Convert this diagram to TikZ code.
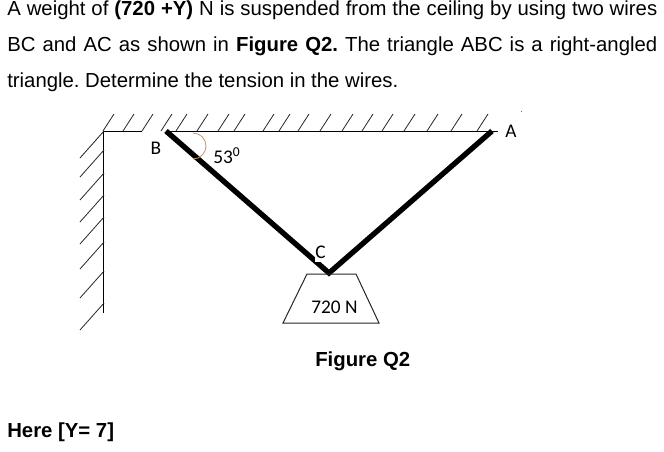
\documentclass[tikz,border=0pt]{standalone}
\usepackage{fontspec}
\setmainfont{Liberation Sans}
\newfontfamily\labelfont{Carlito}
\frenchspacing
\tikzset{
  wire/.style={line width=4pt,black,line cap=butt},
  thinline/.style={line width=0.95pt,black},
  hatchline/.style={line width=0.6pt,black!85},
  para/.style={anchor=base west,inner sep=0pt,font=\fontsize{15.25pt}{26.9pt}\selectfont},
  lab/.style={inner sep=0pt,font=\labelfont\fontsize{14.5pt}{14.5pt}\selectfont},
}
\begin{document}
\begin{tikzpicture}[x=0.75pt,y=-0.75pt]
\useasboundingbox (0,0) rectangle (664,451);
\fill[white] (0,0) rectangle (664,451);
% text
\node[para,text width=487.5pt,align=justify,anchor=north west] (intro) at (7,0.5) {%
  A weight of \textbf{(720 +Y)} N is suspended from the ceiling by using two wires\linebreak
  BC and AC as shown in \textbf{Figure Q2.} The triangle ABC is a right-angled\linebreak
  triangle. Determine the tension in the wires.};
\node[para] (figcap) at (315,366) {\textbf{Figure Q2}};
\node[para] (here) at (7,437) {\textbf{Here [Y= 7]}};
% ceiling and wall
\coordinate (corner) at (103.5,131.5);
\coordinate (gapl) at (142,131.5);
\coordinate (gapr) at (166,131.5);
\coordinate (ceilend) at (498,131.5);
\coordinate (wallend) at (103.5,313);
\draw[thinline] (gapl) -- (corner) -- (wallend);
\draw[thinline] (gapr) -- (ceilend);
% ceiling hatches
\foreach \x in {103,123,142,161,176,197,218,234,263,279,298,320,342,362,382,404,427,451,477}
  \draw[hatchline] (\x,131) -- ++(11,-17);
% wall hatches
\foreach \y in {131,150,173,195,217,242,271,303}
  \draw[hatchline] (104,\y) -- ++(-24,27);
% wires
\coordinate (A) at (492,131);
\coordinate (B) at (166,131);
\coordinate (C) at (329,273);
\draw[wire,line join=miter] (B) -- (C) -- (A);
% load
\coordinate (tl) at (307,274);
\coordinate (tr) at (356,274);
\coordinate (br) at (379,323);
\coordinate (bl) at (283,323);
\draw[line width=0.75pt,black!85] (tl) -- (tr) -- (br) -- (bl) -- cycle;
% angle
\draw[line width=0.6pt,color={rgb,255:red,196;green,148;blue,104}] (193,133) arc[start angle=-90,end angle=90,radius=13];
% labels
\fill[white] (315,243) rectangle (331,262);
\node[lab] (lC) at (320.5,252) {C};
\node[lab] (lB) at (156,148) {B};
\node[lab] (lA) at (511,131) {A};
\node[lab,anchor=base west] (langle) at (213,163) {53\textsuperscript{0}};
\node[lab] (lload) at (334.5,307.5) {720 N};
\fill[black!60] (520.5,110.5) rectangle (521.5,111.5);
\end{tikzpicture}
\end{document}
